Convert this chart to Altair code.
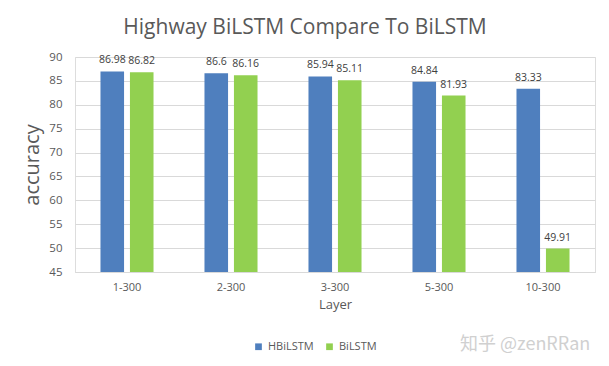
import altair as alt
import pandas as pd

layers = ["1-300", "2-300", "3-300", "5-300", "10-300"]
hbilstm = [86.98, 86.6, 85.94, 84.84, 83.33]
bilstm = [86.82, 86.16, 85.11, 81.93, 49.91]
series = ["HBiLSTM", "BiLSTM"]
colors = ["#4F7FBE", "#92D050"]
y_ticks = [45, 50, 55, 60, 65, 70, 75, 80, 85, 90]

rows = []
for i, l in enumerate(layers):
    rows.append({"Layer": l, "Series": series[0], "accuracy": hbilstm[i], "label": f"{hbilstm[i]:g}"})
    rows.append({"Layer": l, "Series": series[1], "accuracy": bilstm[i], "label": f"{bilstm[i]:g}"})
df = pd.DataFrame(rows)

FONT = "Open Sans"

x_enc = alt.X("Layer:N", sort=layers, scale=alt.Scale(paddingInner=0.49, paddingOuter=0.245),
              axis=alt.Axis(title="Layer", labelAngle=0, labelFontSize=11, labelColor="#595959",
                            titleFontSize=13, titleColor="#595959", titleFontWeight="normal",
                            titlePadding=6, labelPadding=9, domainColor="#D9D9D9", ticks=False,
                            labelFont=FONT, titleFont=FONT))
xo = alt.XOffset("Series:N", sort=series, scale=alt.Scale(paddingInner=0.2))
y_enc = alt.Y("accuracy:Q", scale=alt.Scale(domain=[45, 90], clamp=True, nice=False, zero=False),
              axis=alt.Axis(title="accuracy", values=y_ticks, labelFontSize=11.5, labelColor="#595959",
                            titleFontSize=20, titleColor="#595959", titleFontWeight="normal",
                            titlePadding=6, labelPadding=13, domain=False, ticks=False,
                            labelOverlap=False, labelFlush=False,
                            gridColor="#D9D9D9", labelFont=FONT, titleFont=FONT))

base = alt.Chart(df)

bars = base.mark_bar().encode(
    x=x_enc,
    xOffset=xo,
    y=y_enc,
    color=alt.Color("Series:N", sort=series, scale=alt.Scale(domain=series, range=colors),
                    legend=alt.Legend(title=None, orient="none", legendX=178, legendY=284,
                                      direction="horizontal", symbolType="square", symbolSize=45,
                                      labelFontSize=11, labelColor="#595959", labelFont=FONT,
                                      columnPadding=10, symbolStrokeWidth=0)),
)

texts = base.mark_text(dy=-6, fontSize=10.5, color="#404040", font=FONT, baseline="bottom").encode(
    x=x_enc,
    xOffset=xo,
    y=y_enc,
    text="label:N",
)

watermark = alt.Chart(pd.DataFrame({"t": ["知乎 @zenRRan"]})).mark_text(
    fontSize=18, color="#D0D0D0", font="Noto Sans CJK SC", align="left", baseline="middle"
).encode(x=alt.value(385), y=alt.value(288), text="t:N")

chart = alt.layer(bars, texts, watermark).properties(
    width=520, height=215,
    title=alt.TitleParams("Highway BiLSTM Compare To BiLSTM", fontSize=21, color="#595959",
                          font=FONT, fontWeight="normal", anchor="middle", offset=13, dx=-30),
    padding={"left": 67, "top": 49, "right": 6, "bottom": 86},
    autosize=alt.AutoSizeParams(type="none"),
).configure_view(stroke=None).configure(background="white")

chart.save("out.html", embed_options={"renderer": "svg", "actions": False})
